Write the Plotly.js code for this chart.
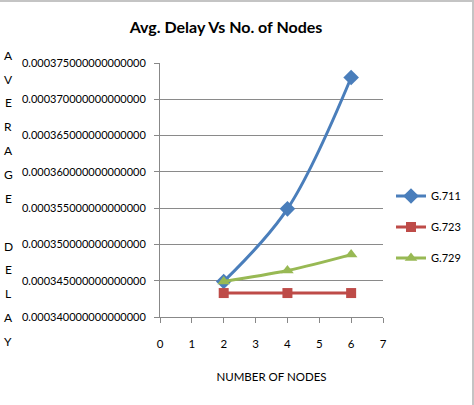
<!DOCTYPE html>
<html>
<head>
<meta charset="utf-8">
<script src="https://cdn.plot.ly/plotly-3.0.1.min.js"></script>
<style>
  html, body { margin: 0; padding: 0; background: #fff; }
  #wrap { width: 474px; height: 405px; box-sizing: border-box; border-top: 2px solid #c4c4c4; border-right: 2px solid #c4c4c4; }
  #chart { width: 472px; height: 403px; }
</style>
</head>
<body>
<div id="wrap"><div id="chart"></div></div>
<script>
// ---- data ----
const nodes = [2, 4, 6];
const g711 = [0.0003449, 0.0003549, 0.0003730];
const g723 = [0.0003433, 0.0003433, 0.0003433];
const g729 = [0.0003449, 0.0003464, 0.0003486];
const seriesNames = ['G.711', 'G.723', 'G.729'];
const yTitleLetters = ['A','V','E','R','A','G','E','','D','E','L','A','Y'];
const chartTitle = 'Avg. Delay Vs No. of Nodes';
const xTitle = 'NUMBER OF NODES';

// ---- layout helpers (pixel -> paper, image coordinates) ----
const W = 472;
const PL = 160, PR = 383, PT = 62.7, PB = 315.7;
const px2x = p => (p - PL) / (PR - PL);
const py2y = p => (PB - p) / (PB - PT);

const FONT = 'Lato, "Open Sans", sans-serif';

const traces = [
  { x: nodes, y: g711, name: seriesNames[0], legendgroup: 'a', mode: 'lines+markers',
    line: { color: '#4A7EBB', width: 3, shape: 'spline' },
    marker: { symbol: 'diamond', size: 12, color: '#4A7EBB' } },
  { x: nodes, y: g723, name: seriesNames[1], legendgroup: 'b', mode: 'lines+markers',
    line: { color: '#BE4B48', width: 3, shape: 'spline' },
    marker: { symbol: 'square', size: 10, color: '#BE4B48' } },
  { x: nodes, y: g729, name: seriesNames[2], legendgroup: 'c', mode: 'lines+markers',
    line: { color: '#98B954', width: 3, shape: 'spline' },
    marker: { symbol: 'triangle-up', size: 11, color: '#98B954' } }
];

const annotations = yTitleLetters.map((ch, i) => ({
  text: ch, xref: 'paper', yref: 'paper', showarrow: false,
  x: px2x(8), y: py2y(55 + i * 23.75), xanchor: 'center', yanchor: 'middle',
  font: { family: FONT, size: 12, color: '#000' }
}));

const layout = {
  width: 472, height: 403,
  margin: { l: 160, r: 89, t: 61, b: 88, pad: 0 },
  paper_bgcolor: '#fff', plot_bgcolor: '#fff',
  showlegend: true,
  title: { text: chartTitle, xref: 'paper', x: px2x(226), xanchor: 'center',
           yref: 'container', y: 1 - 25 / 403, yanchor: 'middle',
           font: { family: FONT, size: 16, color: '#000', weight: 'bold' } },
  xaxis: {
    range: [0, 7], dtick: 1, tick0: 0, showgrid: false, zeroline: false,
    showline: true, linecolor: '#888', linewidth: 1,
    ticks: 'outside', ticklen: 5, tickcolor: '#888', ticklabelstandoff: 11,
    tickfont: { family: FONT, size: 11.5, color: '#000' },
    title: { text: xTitle, standoff: 24, font: { family: FONT, size: 11.5, color: '#000' } },
    fixedrange: true
  },
  yaxis: {
    range: [0.00034, 0.000375], dtick: 0.000005, tick0: 0.00034,
    tickformat: '.18f', showgrid: true, gridcolor: '#8a8a8a', gridwidth: 1,
    zeroline: false, showline: true, linecolor: '#888', linewidth: 1,
    ticks: 'outside', ticklen: 5, tickcolor: '#888', ticklabelstandoff: 6,
    tickfont: { family: FONT, size: 11, color: '#000' },
    fixedrange: true
  },
  legend: { xref: 'container', x: 391 / W, xanchor: 'left', y: py2y(226), yanchor: 'middle',
            traceorder: 'grouped', tracegroupgap: 12, bgcolor: 'rgba(0,0,0,0)',
            font: { family: FONT, size: 11, color: '#000' } },
  annotations: annotations
};

Plotly.newPlot('chart', traces, layout, { displayModeBar: false, staticPlot: true });
</script>
</body>
</html>
